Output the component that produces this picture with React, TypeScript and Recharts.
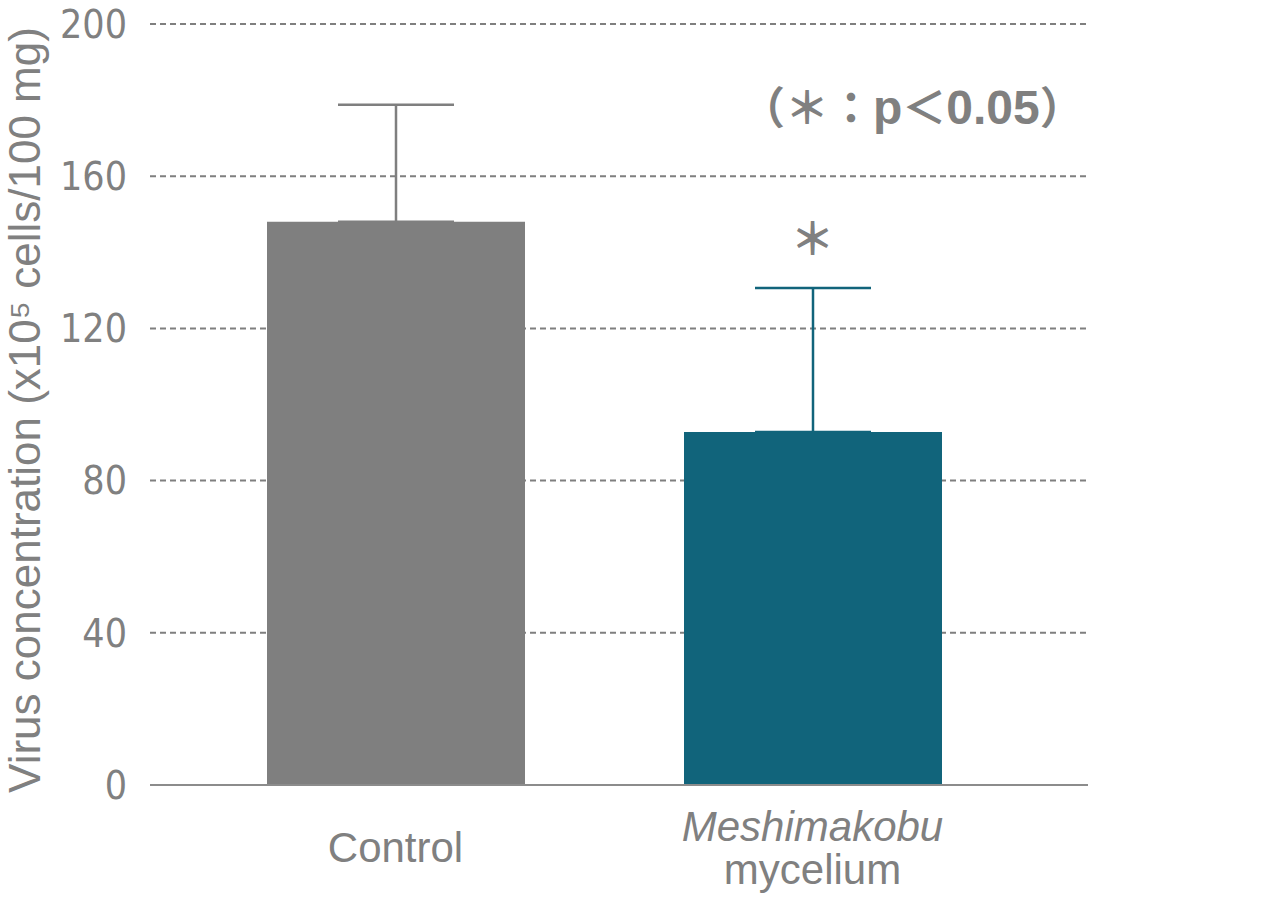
import { Bar, BarChart, CartesianGrid, Cell, ErrorBar, ReferenceDot, XAxis, YAxis } from "recharts";

const categories = ["Control", "Meshimakobu mycelium"];
const means = [148, 92.8];
const upperErrors = [30.8, 37.8];
const significance = ["", "＊"];
const yTicks = [0, 40, 80, 120, 160, 200];

const GRAY = "#7f7f7f";
const TEAL = "#11647b";
const TEXT = "#808080";
const SANS = "'Liberation Sans', Arial, 'Noto Sans CJK JP', sans-serif";
const NARROW = "'Liberation Sans Narrow', 'DejaVu Sans Condensed', 'Liberation Sans', sans-serif";

const data = categories.map((name, i) => ({
  name,
  mean: means[i],
  // one error key per bar so each error bar gets its own colour
  errGray: i === 0 ? [0, upperErrors[i]] : null,
  errTeal: i === 1 ? [0, upperErrors[i]] : null,
}));

const XTick = ({ x, y, payload }: any) => {
  if (payload.value === "Control") {
    return (
      <text x={x} y={y + 75} textAnchor="middle" fill={TEXT} fontSize={42} fontFamily={SANS}>
        Control
      </text>
    );
  }
  const [first, second] = payload.value.split(" ");
  return (
    <g fill={TEXT} fontSize={42} fontFamily={SANS}>
      <text x={x} y={y + 54} textAnchor="middle" fontStyle="italic">
        {first}
      </text>
      <text x={x} y={y + 97} textAnchor="middle">
        {second}
      </text>
    </g>
  );
};

const App = () => {
  const sigIndex = significance.findIndex((s) => s !== "");
  return (
    <div style={{ position: "absolute", left: 0, top: 0, width: 1280, height: 899 }}>
      <BarChart
        width={1280}
        height={899}
        data={data}
        margin={{ top: 24, right: 192, left: 90, bottom: 54 }}
      >
        <CartesianGrid vertical={false} stroke="#7f7f7f" strokeWidth={2} strokeDasharray="6 4" />
        <XAxis
          dataKey="name"
          interval={0}
          height={60}
          tickLine={false}
          tickSize={0}
          axisLine={{ stroke: "#8c8c8c", strokeWidth: 2 }}
          padding={{ left: 37, right: 67 }}
          tick={<XTick />}
        />
        <YAxis
          domain={[0, 200]}
          ticks={yTicks}
          width={60}
          axisLine={false}
          tickLine={false}
          tickSize={0}
          tickMargin={23}
          tick={{ fill: TEXT, fontSize: 39, fontFamily: NARROW }}
        />
        <Bar dataKey="mean" barSize={258} isAnimationActive={false}>
          {data.map((d, i) => (
            <Cell key={d.name} fill={i === 0 ? GRAY : TEAL} />
          ))}
          <ErrorBar dataKey="errGray" width={58} stroke={GRAY} strokeWidth={2.5} direction="y" />
          <ErrorBar dataKey="errTeal" width={58} stroke={TEAL} strokeWidth={2.5} direction="y" />
        </Bar>
        <ReferenceDot
          x={categories[sigIndex]}
          y={means[sigIndex] + upperErrors[sigIndex]}
          r={0}
          fill="none"
          stroke="none"
          label={{
            value: significance[sigIndex],
            position: "top",
            offset: 33,
            fill: TEXT,
            fontSize: 44,
            fontWeight: "bold",
            fontFamily: "'Noto Sans CJK JP', sans-serif",
          }}
        />
      </BarChart>
      <svg
        width={1280}
        height={899}
        style={{ position: "absolute", left: 0, top: 0, pointerEvents: "none" }}
      >
        <text
          transform="translate(40, 410) rotate(-90)"
          textAnchor="middle"
          fill={TEXT}
          fontSize={44}
          fontFamily={SANS}
        >
          Virus concentration (x10⁵ cells/100 mg)
        </text>
        <text x={741} y={124} fill={TEXT} fontWeight="bold" fontFamily={SANS}>
          <tspan fontSize={44}>（＊：</tspan>
          <tspan fontSize={48}>p</tspan>
          <tspan fontSize={44}>＜</tspan>
          <tspan fontSize={48}>0.05</tspan>
          <tspan fontSize={44}>）</tspan>
        </text>
      </svg>
    </div>
  );
};

export default App;
